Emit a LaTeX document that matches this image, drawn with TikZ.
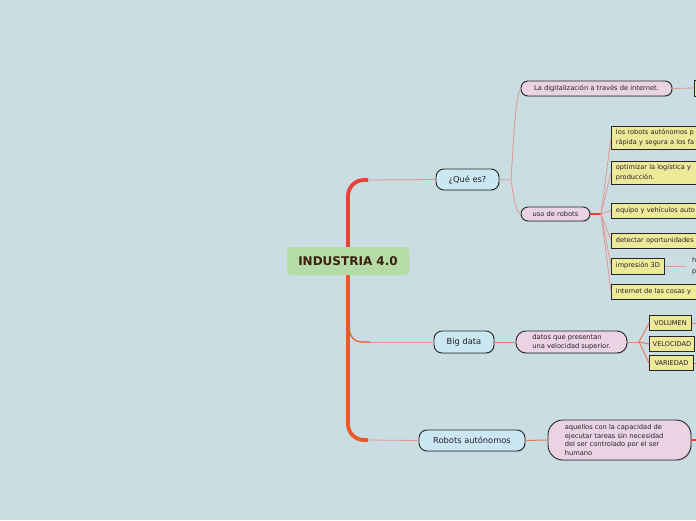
\documentclass[tikz,border=0pt]{standalone}
\usepackage{fontspec}
\setmainfont{DejaVu Sans}
\usetikzlibrary{shadows}
\definecolor{bgc}{RGB}{201,221,227}
\definecolor{rootc}{RGB}{181,220,166}
\definecolor{roottxt}{RGB}{58,32,16}
\definecolor{bluec}{RGB}{202,231,242}
\definecolor{pinkc}{RGB}{234,212,228}
\definecolor{yelc}{RGB}{238,233,152}
\definecolor{txtc}{RGB}{40,30,40}
\definecolor{trunkup}{RGB}{234,64,56}
\definecolor{trunkdn}{RGB}{234,90,40}
\definecolor{thinc}{RGB}{228,150,145}
\definecolor{redc}{RGB}{236,62,50}
\definecolor{orc}{RGB}{234,125,90}
\newcommand{\fsroot}{\fontsize{12}{14}\bfseries\selectfont}
\newcommand{\fsblue}{\fontsize{8.3}{10}\selectfont}
\newcommand{\fspink}{\fontsize{6.7}{9.6}\selectfont}
\newcommand{\fsyel}{\fontsize{6.6}{10.5}\selectfont}
\begin{document}
\begin{tikzpicture}[x=1pt,y=-1pt,
  rootbox/.style={fill=rootc, rounded corners=3pt, minimum width=122pt, minimum height=28pt, font=\fsroot, text=roottxt, inner sep=0pt},
  bluebox/.style={draw=black!85, line width=0.9pt, fill=bluec, rounded corners=8pt, font=\fsblue, text=txtc, inner sep=0pt,
     drop shadow={opacity=0.25, shadow xshift=0.8pt, shadow yshift=-1pt}},
  pinkbox/.style={draw=black!85, line width=0.9pt, fill=pinkc, rounded corners=7pt, font=\fspink, text=txtc, inner sep=0pt,
     drop shadow={opacity=0.25, shadow xshift=0.8pt, shadow yshift=-1pt}},
  ybox/.style={draw=black!85, line width=0.9pt, fill=yelc, font=\fsyel, text=txtc, align=left, anchor=west,
     inner xsep=4.5pt, inner ysep=2.5pt, minimum height=15pt},
  ybox2/.style={ybox, minimum height=23pt},
  thinl/.style={thinc, line width=0.8pt},
  redl/.style={redc, line width=1.2pt},
  orl/.style={orc, line width=1pt}
]
\fill[bgc] (0,0) rectangle (696,520);
\useasboundingbox (0,0) rectangle (696,520);
\clip (0,0) rectangle (696,520);

% main nodes
\node[rootbox] (root) at (348,261) {INDUSTRIA 4.0};
\node[bluebox, minimum width=63pt, minimum height=21pt] (qe) at (467.5,179.5) {¿Qué es?};
\node[bluebox, minimum width=60pt, minimum height=22pt] (bd) at (464,342) {Big data};
\node[bluebox, minimum width=106pt, minimum height=21pt] (ra) at (472,440.5) {Robots autónomos};

% trunk
\coordinate (tq) at (368,180);
\coordinate (tb) at (370,342);
\coordinate (tr) at (368,440);
\draw[thinl] (tq) -- (qe.west);
\draw[thinl] (tb) -- (bd.west);
\draw[thinl] (tr) -- (ra.west);
\draw[trunkup, line width=3.8pt, rounded corners=16pt] (root.north) -- (348,180) -- (tq);
\draw[trunkdn, line width=3.8pt, rounded corners=16pt] (root.south) -- (348,440) -- (tr);
\draw[trunkdn, line width=1.2pt, rounded corners=12pt] (349.5,322) -- (349.5,342) -- (tb);

% Que es branch
\node[pinkbox, minimum width=151pt, minimum height=15pt] (dig) at (596.5,88.5) {La digitalización a través de internet.};
\node[pinkbox, minimum width=69pt, minimum height=14pt] (uso) at (555.5,214) {uso de robots};
\coordinate (qs) at (511,180);
\draw[thinl] (qe.east) -- (qs);
\draw[thinl] (qs) .. controls (514,130) and (516,95) .. (dig.west);
\draw[thinl] (qs) .. controls (514,200) and (516,212) .. (uso.west);

\node[ybox, text width=140pt, minimum height=16pt] (dy) at (694,88) {\strut};
\draw[thinl] (dig.east) -- (dy.west);

% uso de robots children
\node[ybox2, text width=140pt] (y1) at (611,137.5) {los robots autónomos p\\rápida y segura a los fa};
\node[ybox2, text width=140pt] (y2) at (611,172.5) {optimizar la logística y\\producción.};
\node[ybox, text width=140pt] (y3) at (611,210.5) {equipo y vehículos auto};
\node[ybox, text width=140pt] (y4) at (611,240.5) {detectar oportunidades};
\node[ybox, minimum height=16pt] (y5) at (611,266) {impresión 3D};
\node[ybox, text width=140pt] (y6) at (611,291.5) {internet de las cosas y};
\node[font=\fsyel, text=txtc, align=left, anchor=west, inner sep=0pt] (y5t) at (692,266) {h\\p};
\coordinate (us) at (601,214);
\draw[redl] (uso.east) -- (us);
\foreach \n in {y1,y2,y3,y4,y5,y6} \draw[thinl] (us) -- (\n.west);
\draw[thinl] (y5.east) -- ++(21,0);

% Big data branch
\node[pinkbox, minimum width=111pt, minimum height=22pt, rounded corners=10pt, align=left, font=\fontsize{6.7}{8.8}\selectfont] (dat) at (571.5,342) {datos que presentan\\una velocidad superior.};
\draw[orl] (bd.east) -- (dat.west);
\node[ybox, minimum width=42pt, minimum height=14.5pt, inner xsep=0pt, align=center] (vo) at (649,323) {VOLUMEN};
\node[ybox, minimum width=45pt, minimum height=14.5pt, inner xsep=0pt, align=center] (ve) at (649,344) {VELOCIDAD};
\node[ybox, minimum width=44pt, minimum height=14.5pt, inner xsep=0pt, align=center] (va) at (649,363) {VARIEDAD};
\coordinate (ds) at (639,342);
\draw[orl] (dat.east) -- (ds);
\foreach \n in {vo,ve,va} \draw[orl] (ds) -- (\n.west);
\coordinate (vor) at (700,323);
\coordinate (var) at (700,363);
\draw[orl] (vo.east) -- (vor);
\draw[orl] (va.east) -- (var);

% Robots autonomos branch
\node[pinkbox, minimum width=143pt, minimum height=40pt, rounded corners=15pt, align=left, font=\fontsize{6.7}{8.6}\selectfont] (rdef) at (619.5,440) {aquellos con la capacidad de\\ejecutar tareas sin necesidad\\del ser controlado por el ser\\humano\hspace*{82pt}};
\draw[orl] (ra.east) -- (rdef.west);
\coordinate (rr) at (700,440);
\draw[redl] (rdef.east) -- (rr);
\end{tikzpicture}
\end{document}
